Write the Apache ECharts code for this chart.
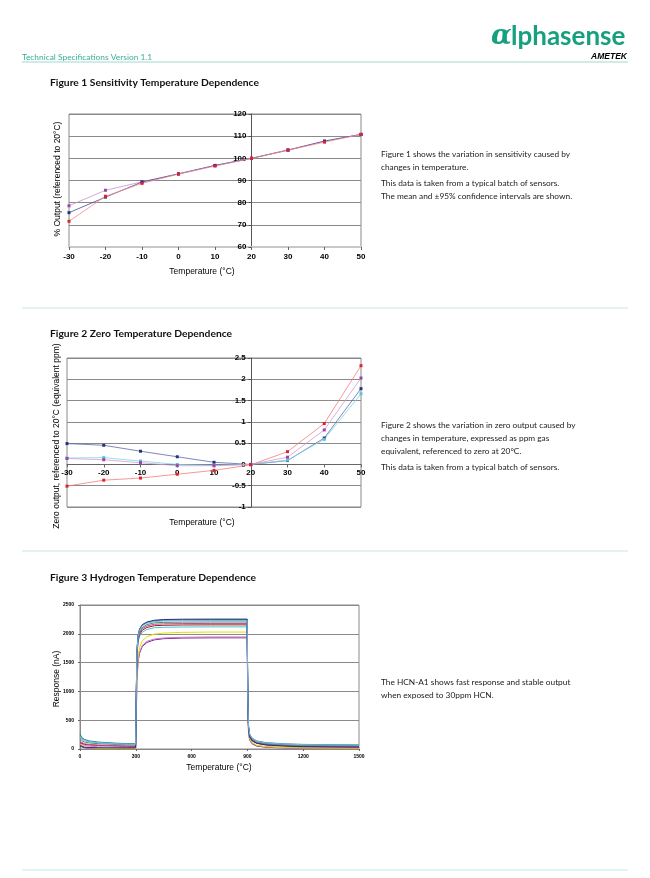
<!DOCTYPE html>
<html><head><meta charset="utf-8">
<script src="https://cdn.jsdelivr.net/npm/echarts/dist/echarts.min.js"></script>
<style>html,body{margin:0;padding:0;background:#fff}#c{width:650px;height:878px}</style>
</head><body><div id="c"></div>
<script>
// ---------- Figure 1 data ----------
const fig1Temps = [-30, -20, -10, 0, 10, 20, 30, 40, 50];
const fig1Mean  = [75.5, 82.5, 89.3, 93.0, 96.8, 100, 103.7, 107.8, 110.8];
const fig1Upper = [78.6, 85.6, 89.4, 93.0, 96.8, 100, 103.8, 107.7, 110.8];
const fig1Lower = [71.6, 82.9, 88.7, 92.9, 96.5, 100, 103.7, 107.3, 110.8];
// ---------- Figure 2 data ----------
const fig2Temps  = [-30, -20, -10, 0, 10, 20, 30, 40, 50];
const fig2Navy   = [0.49, 0.45, 0.31, 0.18, 0.05, 0, 0.09, 0.62, 1.78];
const fig2Cyan   = [0.15, 0.16, 0.08, 0.00, -0.02, 0, 0.10, 0.59, 1.66];
const fig2Purple = [0.14, 0.11, 0.04, -0.03, -0.03, 0, 0.17, 0.81, 2.03];
const fig2Red    = [-0.51, -0.37, -0.32, -0.23, -0.14, -0.01, 0.30, 0.96, 2.32];
// ---------- Figure 3 data ----------
const fig3Time = [0, 10, 25, 50, 100, 150, 200, 250, 299, 302, 306, 312, 320, 335, 360, 400, 450, 550, 700, 899, 902, 906, 912, 925, 950, 1000, 1100, 1200, 1350, 1500];
const fig3Teal    = [265, 200, 165, 140, 120, 110, 100, 95, 90, 840, 1710, 1965, 2075, 2150, 2195, 2225, 2235, 2242, 2245, 2245, 950, 420, 260, 190, 140, 110, 90, 80, 75, 72];
const fig3Navy    = [60, 40, 30, 25, 22, 20, 20, 20, 20, 800, 1700, 1970, 2080, 2160, 2205, 2235, 2248, 2253, 2255, 2255, 900, 380, 220, 150, 100, 70, 50, 40, 35, 32];
const fig3Green   = [180, 145, 120, 105, 92, 85, 78, 74, 70, 800, 1670, 1930, 2035, 2110, 2160, 2190, 2198, 2203, 2205, 2205, 900, 380, 235, 170, 125, 95, 75, 65, 60, 58];
const fig3Magenta = [130, 105, 90, 78, 68, 62, 57, 53, 50, 790, 1640, 1900, 2010, 2090, 2135, 2165, 2173, 2178, 2180, 2180, 880, 360, 215, 150, 105, 78, 60, 50, 45, 42];
const fig3Maroon  = [110, 92, 80, 70, 62, 56, 52, 48, 45, 780, 1620, 1880, 1985, 2065, 2110, 2140, 2148, 2153, 2155, 2155, 870, 350, 205, 140, 98, 72, 55, 45, 40, 38];
const fig3Cyan    = [240, 185, 155, 130, 112, 102, 95, 90, 85, 760, 1600, 1850, 1955, 2030, 2075, 2105, 2113, 2118, 2120, 2120, 860, 360, 215, 155, 115, 90, 75, 68, 64, 62];
const fig3Yellow  = [75, 50, 35, 22, 12, 8, 6, 5, 5, 500, 1250, 1600, 1760, 1880, 1950, 1995, 2012, 2025, 2030, 2030, 820, 320, 180, 110, 65, 40, 25, 18, 15, 14];
const fig3Lilac   = [95, 75, 60, 48, 38, 33, 30, 27, 25, 480, 1200, 1530, 1680, 1800, 1870, 1910, 1928, 1940, 1945, 1945, 780, 300, 165, 100, 60, 40, 28, 22, 18, 16];
const fig3Plum    = [45, 30, 22, 16, 12, 10, 10, 10, 10, 460, 1180, 1510, 1660, 1780, 1850, 1895, 1915, 1926, 1930, 1930, 760, 290, 155, 90, 50, 30, 18, 12, 10, 10];
const fig3Sky     = [215, 170, 145, 125, 108, 98, 90, 85, 80, 820, 1690, 1950, 2060, 2140, 2185, 2212, 2222, 2228, 2230, 2230, 920, 400, 250, 185, 135, 105, 85, 75, 70, 68];

const ARIAL = '"Liberation Sans", Arial, sans-serif';
const BODY = 'Lato, "Open Sans", sans-serif';

function pairs(xs, ys) { return xs.map((x, i) => [x, ys[i]]); }

function ptSeries(grid, xs, ys, lineColor, markColor) {
  return {
    type: 'line', xAxisIndex: grid, yAxisIndex: grid, data: pairs(xs, ys),
    symbol: 'rect', symbolSize: 3, showSymbol: true,
    lineStyle: { color: lineColor, width: 0.8 },
    itemStyle: { color: markColor }, animation: false, z: 3
  };
}
function respSeries(ys, color) {
  return {
    type: 'line', xAxisIndex: 2, yAxisIndex: 2, data: pairs(fig3Time, ys),
    showSymbol: false, symbol: 'none',
    lineStyle: { color: color, width: 1 }, animation: false, z: 3
  };
}

const axisLbl = { color: '#000', fontFamily: ARIAL, fontWeight: 'bold', fontSize: 8 };
const smallLbl = { color: '#000', fontFamily: ARIAL, fontWeight: 'bold', fontSize: 5, formatter: v => String(v) };
const gridLine = { show: true, lineStyle: { color: '#8a8a8a', width: 1 } };

function txt(text, x, y, opt) {
  opt = opt || {};
  return {
    type: 'text', x: x, y: y, rotation: opt.rotation || 0, z: 10,
    style: {
      text: text, x: 0, y: 0,
      fill: opt.color || '#222',
      font: opt.font || ('8.3px ' + BODY),
      align: opt.align || 'left', textAlign: opt.align || 'left',
      verticalAlign: 'middle', textVerticalAlign: 'middle'
    }
  };
}
function hline(x1, x2, y, color, w) {
  return { type: 'line', shape: { x1: x1, y1: y, x2: x2, y2: y }, style: { stroke: color, lineWidth: w || 1 }, z: 1 };
}

const chart = echarts.init(document.getElementById('c'), null, { renderer: 'canvas' });

const option = {
  backgroundColor: '#fff',
  animation: false,
  grid: [
    { left: 69, top: 114, width: 292, height: 133, show: true, borderColor: '#8a8a8a', borderWidth: 1 },
    { left: 67, top: 358, width: 294, height: 149, show: true, borderColor: '#8a8a8a', borderWidth: 1 },
    { left: 80, top: 605, width: 279, height: 144, show: true, borderColor: '#8a8a8a', borderWidth: 1 }
  ],
  xAxis: [
    { gridIndex: 0, type: 'value', min: -30, max: 50, interval: 10,
      axisLine: { show: true, lineStyle: { color: '#c8c8c8', width: 2 } },
      axisTick: { show: true, length: 3, lineStyle: { color: '#666' } },
      axisLabel: Object.assign({ margin: 6 }, axisLbl), splitLine: { show: false } },
    { gridIndex: 1, type: 'value', min: -30, max: 50, interval: 10, position: 'bottom', offset: -42.57,
      axisLine: { show: true, onZero: false, lineStyle: { color: '#666', width: 1 } },
      axisTick: { show: true, length: 3, lineStyle: { color: '#666' } },
      axisLabel: Object.assign({ margin: 4 }, axisLbl), splitLine: { show: false } },
    { gridIndex: 2, type: 'value', min: 0, max: 1500, interval: 300,
      axisLine: { show: true, lineStyle: { color: '#888', width: 1 } },
      axisTick: { show: true, length: 2, lineStyle: { color: '#666' } },
      axisLabel: Object.assign({ margin: 5 }, smallLbl), splitLine: { show: false } }
  ],
  yAxis: [
    { gridIndex: 0, type: 'value', min: 60, max: 120, interval: 10, position: 'left', offset: -182.5,
      axisLine: { show: true, onZero: false, lineStyle: { color: '#555', width: 1 } },
      axisTick: { show: true, length: 3, lineStyle: { color: '#555' } },
      axisLabel: Object.assign({ margin: 5 }, axisLbl), splitLine: gridLine },
    { gridIndex: 1, type: 'value', min: -1, max: 2.5, interval: 0.5, position: 'left', offset: -183.75,
      axisLine: { show: true, onZero: false, lineStyle: { color: '#555', width: 1 } },
      axisTick: { show: true, length: 3, lineStyle: { color: '#555' } },
      axisLabel: Object.assign({ margin: 5 }, axisLbl), splitLine: gridLine },
    { gridIndex: 2, type: 'value', min: 0, max: 2500, interval: 500,
      axisLine: { show: true, lineStyle: { color: '#888', width: 1 } },
      axisTick: { show: true, length: 2, lineStyle: { color: '#666' } },
      axisLabel: Object.assign({ margin: 6 }, smallLbl), splitLine: gridLine }
  ],
  series: [
    ptSeries(0, fig1Temps, fig1Upper, '#cc8fd0', '#9a45a8'),
    ptSeries(0, fig1Temps, fig1Mean, '#3a4f9a', '#22337f'),
    ptSeries(0, fig1Temps, fig1Lower, '#f48a8a', '#e0222e'),

    ptSeries(1, fig2Temps, fig2Navy, '#5a6aa8', '#22337f'),
    ptSeries(1, fig2Temps, fig2Cyan, '#7fd6e6', '#58c4dc'),
    ptSeries(1, fig2Temps, fig2Purple, '#d39ad6', '#9a45a8'),
    ptSeries(1, fig2Temps, fig2Red, '#f47c7c', '#e0222e'),

    respSeries(fig3Plum, '#7a2a8a'),
    respSeries(fig3Lilac, '#cc77cc'),
    respSeries(fig3Yellow, '#e6dc00'),
    respSeries(fig3Cyan, '#46c6d2'),
    respSeries(fig3Maroon, '#9b1b1b'),
    respSeries(fig3Magenta, '#d0409a'),
    respSeries(fig3Green, '#3c9a5f'),
    respSeries(fig3Teal, '#2b8a8a'),
    respSeries(fig3Navy, '#23307e'),
    respSeries(fig3Sky, '#7fb2e6')
  ],
  graphic: [
    // header
    txt('Technical Specifications Version 1.1', 22, 57, { color: '#3aae98', font: '8.4px ' + BODY }),
    hline(22, 628, 62, '#9fd8cc', 1),
    txt('\u03b1', 491, 37, { color: '#17a07f', font: 'italic bold 27px "DejaVu Serif", serif' }),
    txt('lphasense', 511, 37, { color: '#17a07f', font: 'bold 26px ' + BODY }),
    txt('AMETEK', 627, 57, { color: '#000', align: 'right', font: 'italic 900 8.5px "Liberation Sans", Arial, sans-serif' }),
    // section titles
    txt('Figure 1 Sensitivity Temperature Dependence', 50, 83, { color: '#111', font: 'bold 10.3px ' + BODY }),
    txt('Figure 2 Zero Temperature Dependence', 50, 334, { color: '#111', font: 'bold 10.3px ' + BODY }),
    txt('Figure 3 Hydrogen Temperature Dependence', 50, 578, { color: '#111', font: 'bold 10.3px ' + BODY }),
    // separators
    hline(22, 628, 308, '#c4e9e1', 1),
    hline(22, 628, 551, '#c4e9e1', 1),
    hline(22, 628, 870, '#c4e9e1', 1),
    // fig 1 side text
    txt('Figure 1 shows the variation in sensitivity caused by', 381, 154),
    txt('changes in temperature.', 381, 167),
    txt('This data is taken from a typical batch of sensors.', 381, 183),
    txt('The mean and \u00b195% confidence intervals are shown.', 381, 196),
    // fig 2 side text
    txt('Figure 2 shows the variation in zero output caused by', 381, 425),
    txt('changes in temperature, expressed as ppm gas', 381, 438),
    txt('equivalent, referenced to zero at 20\u00b0C.', 381, 451),
    txt('This data is taken from a typical batch of sensors.', 381, 467),
    // fig 3 side text
    txt('The HCN-A1 shows fast response and stable output', 381, 682),
    txt('when exposed to 30ppm HCN.', 381, 695),
    // axis names
    txt('% Output (referenced to 20\u00b0C)', 58, 179, { rotation: Math.PI / 2, align: 'center', color: '#000', font: '8.5px ' + ARIAL }),
    txt('Temperature (\u00b0C)', 202, 272, { align: 'center', color: '#000', font: '8.5px ' + ARIAL }),
    txt('Zero output, referenced to 20\u00b0C (equivalent ppm)', 57, 436, { rotation: Math.PI / 2, align: 'center', color: '#000', font: '8.5px ' + ARIAL }),
    txt('Temperature (\u00b0C)', 202, 523, { align: 'center', color: '#000', font: '8.5px ' + ARIAL }),
    txt('Response (nA)', 57, 679, { rotation: Math.PI / 2, align: 'center', color: '#000', font: '8.5px ' + ARIAL }),
    txt('Temperature (\u00b0C)', 219, 768, { align: 'center', color: '#000', font: '8.5px ' + ARIAL })
  ]
};
chart.setOption(option);
</script>
</body></html>
